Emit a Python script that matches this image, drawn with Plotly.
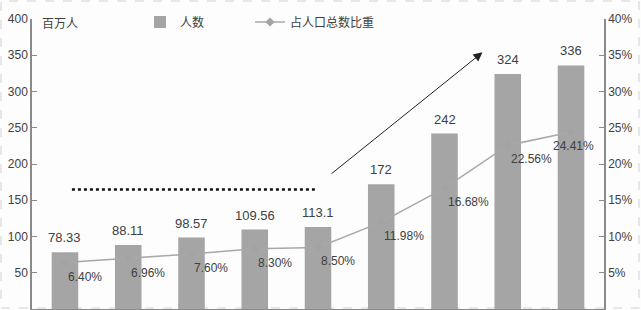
import plotly.graph_objects as go

categories = ["C1", "C2", "C3", "C4", "C5", "C6", "C7", "C8", "C9"]
people = [78.33, 88.11, 98.57, 109.56, 113.1, 172, 242, 324, 336]
people_labels = ["78.33", "88.11", "98.57", "109.56", "113.1", "172", "242", "324", "336"]
share = [0.0640, 0.0696, 0.0760, 0.0830, 0.0850, 0.1198, 0.1668, 0.2256, 0.2441]
share_labels = ["6.40%", "6.96%", "7.60%", "8.30%", "8.50%", "11.98%", "16.68%", "22.56%", "24.41%"]

W, H = 641, 310
L, R, T, B = 32, 37, 19, 1
pw, ph = W - L - R, H - T - B


def px_x(p):
    return (p - L) / pw


def px_y(p):
    return (H - B - p) / ph


font_main = "Liberation Sans, Arial, Noto Sans CJK SC, sans-serif"
font_cjk = "Noto Sans CJK SC, sans-serif"
txt = "#404040"
axc = "#8a8a8a"

fig = go.Figure()
fig.add_trace(go.Bar(
    x=categories, y=people, name="人数", legend="legend",
    marker=dict(color="#a5a5a5", line=dict(width=0)),
))
fig.add_trace(go.Scatter(
    x=categories, y=share, name="占人口总数比重", yaxis="y2", legend="legend2",
    mode="lines+markers",
    line=dict(color="#a8a8a8", width=1.5),
    marker=dict(symbol="diamond", size=7, color="#a3a3a3"),
    cliponaxis=False,
))

# value labels above bars
for c, v, t in zip(categories, people, people_labels):
    fig.add_annotation(x=c, y=v, xref="x", yref="y", text=t, showarrow=False,
                       xanchor="center", yanchor="bottom", yshift=5,
                       font=dict(family=font_main, size=13, color=txt))
# share labels below-right of points
for i, (c, v, t) in enumerate(zip(categories, share, share_labels)):
    last = i == len(categories) - 1
    fig.add_annotation(x=c, y=v, xref="x", yref="y2", text=t, showarrow=False,
                       xanchor="center" if last else "left", yanchor="middle",
                       xshift=2 if last else 1, yshift=-14,
                       font=dict(family=font_main, size=12, color=txt))

# dotted reference line across the first five categories
fig.add_shape(type="line", xref="x", yref="y",
              x0=0.11, x1=3.95, y0=165, y1=165,
              line=dict(color="#111111", width=2.5, dash="dot"))
# upward trend arrow
fig.add_annotation(x=6.6, y=354, ax=4.19, ay=185, xref="x", yref="y",
                   axref="x", ayref="y", showarrow=True, text="",
                   arrowhead=2, arrowsize=1.8, arrowwidth=1, arrowcolor="#222222")
# unit label
fig.add_annotation(x=px_x(40), y=px_y(22), xref="paper", yref="paper", text="百万人",
                   showarrow=False, xanchor="left", yanchor="middle",
                   font=dict(family=font_cjk, size=12, color=txt))

# light dashed border of the picture
fig.add_shape(type="rect", xref="paper", yref="paper",
              x0=px_x(1), x1=px_x(639), y0=px_y(308), y1=px_y(1),
              line=dict(color="#d2d2d2", width=1, dash="dash"), layer="below")

legend_common = dict(orientation="h", xanchor="left", yanchor="middle",
                     font=dict(family=font_cjk, size=12, color=txt),
                     bgcolor="rgba(0,0,0,0)", itemwidth=30)

fig.update_layout(
    width=W, height=H,
    margin=dict(l=L, r=R, t=T, b=B),
    paper_bgcolor="#fdfdfe", plot_bgcolor="#fdfdfe",
    bargap=0.58,
    showlegend=True,
    legend=dict(x=px_x(140), y=px_y(22), **legend_common),
    legend2=dict(x=px_x(250), y=px_y(22), **legend_common),
    xaxis=dict(showticklabels=False, showline=True, linecolor=axc, ticks="",
               showgrid=False, zeroline=False),
    yaxis=dict(range=[0, 400], dtick=50, ticks="inside", ticklen=5, tickcolor=axc,
               showline=True, linecolor=axc, linewidth=1.5, showgrid=False, zeroline=False,
               tickfont=dict(family=font_main, size=12, color=txt)),
    yaxis2=dict(range=[0, 0.4], dtick=0.05, tickformat=".0%", overlaying="y", side="right",
                ticks="inside", ticklen=5, tickcolor=axc,
                showline=True, linecolor=axc, linewidth=1.5, showgrid=False, zeroline=False,
                tickfont=dict(family=font_main, size=12, color=txt)),
)

fig.write_html("out.html")
